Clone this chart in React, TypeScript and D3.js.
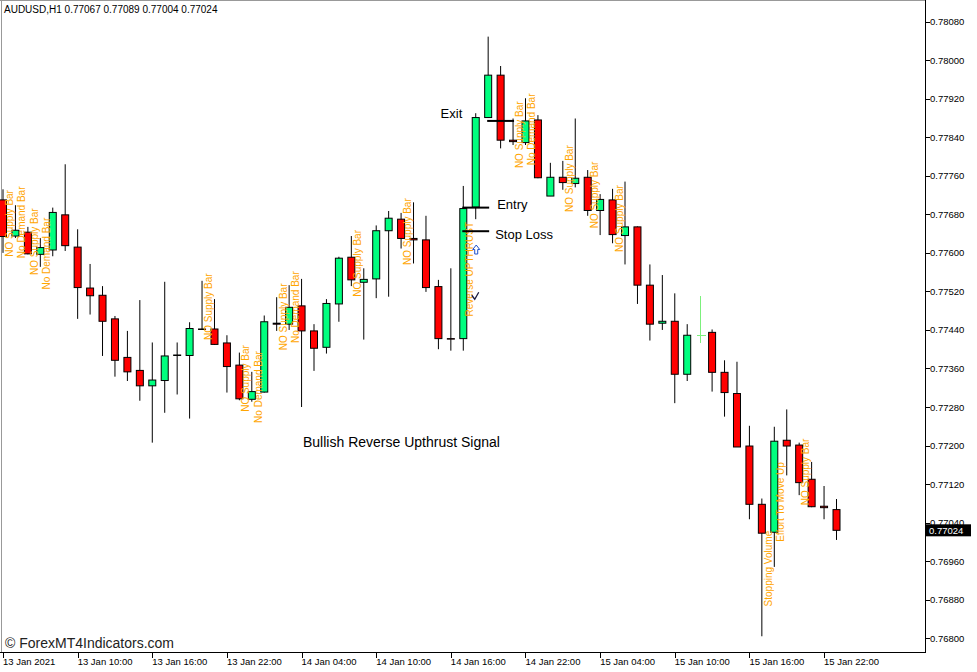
import * as d3 from "d3";

const WIDTH = 977;
const HEIGHT = 672;
const FRAME = { left: 1, top: 1, right: 925, bottom: 652 };
const FONT = "'Liberation Sans', Arial, sans-serif";

const title = "AUDUSD,H1  0.77067 0.77089 0.77004 0.77024";
const lastPrice = 0.77024;

// hourly AUDUSD bars, 13 Jan 04:00 .. 15 Jan 23:00
const opens = [
  0.7771, 0.77635, 0.77643, 0.77597, 0.77606, 0.77679, 0.77612, 0.77527, 0.77512, 0.77463,
  0.77383, 0.77356, 0.77324, 0.77335, 0.77387, 0.77387, 0.77442, 0.77442, 0.77413, 0.77367,
  0.77296, 0.77311, 0.77454, 0.77452, 0.7749, 0.77438, 0.77404, 0.77494, 0.77591, 0.77539,
  0.77546, 0.77646, 0.7767, 0.7763, 0.77627, 0.7753, 0.77422, 0.77422, 0.77695, 0.77881,
  0.77969, 0.77834, 0.77829, 0.77876, 0.77718, 0.77757, 0.77744, 0.77757, 0.77688, 0.7771,
  0.77636, 0.77654, 0.77533, 0.77454, 0.77458, 0.77348, 0.77429, 0.77435, 0.77352, 0.77308,
  0.77199, 0.77078, 0.7702, 0.77211, 0.77201, 0.7713, 0.77074, 0.77067,
];
const highs = [
  0.77732, 0.77699, 0.77654, 0.77631, 0.77694, 0.77784, 0.77649, 0.77577, 0.77531, 0.77469,
  0.77438, 0.77502, 0.77414, 0.7754, 0.77414, 0.77456, 0.77542, 0.77504, 0.77429, 0.77393,
  0.77353, 0.7747, 0.77508, 0.77533, 0.77546, 0.77452, 0.77504, 0.77592, 0.77635, 0.77568,
  0.77657, 0.77687, 0.77683, 0.77705, 0.77677, 0.77544, 0.77568, 0.77739, 0.7789, 0.78049,
  0.77988, 0.77879, 0.77921, 0.77886, 0.77787, 0.77791, 0.77879, 0.77772, 0.77722, 0.77733,
  0.77748, 0.77655, 0.77576, 0.77554, 0.77516, 0.77452, 0.7751, 0.77441, 0.77377, 0.77374,
  0.77241, 0.7709, 0.77239, 0.77275, 0.77206, 0.77166, 0.77116, 0.77089,
];
const lows = [
  0.776, 0.77631, 0.77597, 0.77571, 0.77593, 0.77604, 0.77463, 0.77472, 0.77386, 0.77343,
  0.77334, 0.77293, 0.77206, 0.77268, 0.77306, 0.77256, 0.77441, 0.77409, 0.7731, 0.77294,
  0.77291, 0.7731, 0.77438, 0.7744, 0.7728, 0.77355, 0.77391, 0.77457, 0.77531, 0.7742,
  0.77506, 0.77509, 0.77609, 0.77578, 0.77519, 0.774, 0.77397, 0.77397, 0.7767, 0.7788,
  0.77817, 0.77824, 0.77824, 0.77755, 0.77718, 0.77731, 0.77736, 0.77677, 0.77637, 0.7762,
  0.77576, 0.77494, 0.77418, 0.7744, 0.77288, 0.77334, 0.77413, 0.77312, 0.7726, 0.77197,
  0.77047, 0.76804, 0.76948, 0.77138, 0.77097, 0.77072, 0.77047, 0.77004,
];
const closes = [
  0.77634, 0.77647, 0.77598, 0.77611, 0.77684, 0.77615, 0.77528, 0.77511, 0.77458, 0.77377,
  0.77353, 0.77324, 0.77336, 0.77386, 0.77388, 0.77443, 0.77441, 0.7741, 0.77364, 0.77297,
  0.77312, 0.77457, 0.77452, 0.77487, 0.77438, 0.77402, 0.77495, 0.77589, 0.77544, 0.77545,
  0.77646, 0.77672, 0.7763, 0.77627, 0.77528, 0.77422, 0.77421, 0.77692, 0.77881, 0.77969,
  0.77834, 0.77831, 0.77874, 0.77756, 0.77757, 0.77746, 0.77755, 0.77688, 0.77711, 0.77638,
  0.77654, 0.77533, 0.77452, 0.77458, 0.77348, 0.77429, 0.77429, 0.77352, 0.7731, 0.77197,
  0.77078, 0.77018, 0.77209, 0.77199, 0.77123, 0.77073, 0.77071, 0.77024,
];

const priceTicks = [
  0.7808, 0.78, 0.7792, 0.7784, 0.7776, 0.7768, 0.776, 0.7752, 0.7744,
  0.7736, 0.7728, 0.772, 0.7712, 0.7704, 0.7696, 0.7688, 0.768,
];
const timeLabels = [
  "13 Jan 2021", "13 Jan 10:00", "13 Jan 16:00", "13 Jan 22:00", "14 Jan 04:00", "14 Jan 10:00",
  "14 Jan 16:00", "14 Jan 22:00", "15 Jan 04:00", "15 Jan 10:00", "15 Jan 16:00", "15 Jan 22:00",
];
const timeLabelBars = [0, 6, 12, 18, 24, 30, 36, 42, 48, 54, 60, 66];

// indicator labels (vertical orange text)
const signalTexts = [
  "NO Supply Bar", "No Demand Bar", "NO Supply Bar", "No Demand Bar", "NO Supply Bar",
  "NO Supply Bar", "No Demand Bar", "NO Supply Bar", "No Demand Bar", "NO Supply Bar",
  "NO Supply Bar", "Reverse UPTHRUST", "NO Supply Bar", "No Demand Bar", "NO Supply Bar",
  "NO Supply Bar", "NO Supply Bar", "Stopping Volume", "Effort To Move Up", "NO Supply Bar",
];
const signalBars = [1, 2, 3, 4, 17, 20, 21, 23, 24, 29, 33, 38, 42, 43, 46, 48, 50, 62, 63, 65];
const signalPrices = [
  0.77592, 0.77589, 0.77554, 0.77524, 0.77419, 0.7727, 0.77247, 0.77398, 0.77413, 0.77509,
  0.77575, 0.77468, 0.77776, 0.77782, 0.77685, 0.77651, 0.77602, 0.76866, 0.77, 0.77076,
];

// trade levels
const tradeNames = ["Exit", "Entry", "Stop Loss"];
const tradePrices = [0.77874, 0.77694, 0.77645];
const tradeFrom = [39, 37, 37];
const tradeTo = [41, 39, 39];

const arrowBar = 38;
const arrowPrice = 0.77607;
const checkPrice = 0.7751;

const x = d3.scaleLinear().domain([0, 67]).range([3, 836.5]);
const y = d3.scaleLinear().domain([0.768, 0.7808]).range([638.2, 21.7]);

const Candles = () => {
  return (
    <g>
      {opens.map((o, i) => {
        const c = closes[i];
        const cx = x(i);
        if (o === c) {
          // exact doji drawn as a cross
          const px = Math.round(cx) + 0.5;
          const py = Math.round(y(o)) + 0.5;
          return (
            <g key={i} stroke="#7CF07C" strokeWidth={1} shapeRendering="crispEdges">
              <line x1={px} x2={px} y1={y(highs[i])} y2={y(lows[i])} />
              <line x1={px - 4} x2={px + 5} y1={py} y2={py} />
            </g>
          );
        }
        const top = y(Math.max(o, c));
        const bot = y(Math.min(o, c));
        return (
          <g key={i}>
            <line x1={cx} x2={cx} y1={y(highs[i])} y2={y(lows[i])} stroke="#000" strokeWidth={1} />
            <rect
              x={cx - 3.5}
              y={top}
              width={7}
              height={Math.max(bot - top, 0.5)}
              fill={c > o ? "#00FF7F" : "#FF0000"}
              stroke="#000"
              strokeWidth={1}
            />
          </g>
        );
      })}
    </g>
  );
};

export default function App() {
  const ay = y(arrowPrice);
  const ax = x(arrowBar) + 0.5;
  const cy = y(checkPrice);
  const cxk = x(arrowBar) - 1;
  return (
    <div style={{ position: "absolute", left: 0, top: 0 }}>
      <svg width={WIDTH} height={HEIGHT} style={{ display: "block", background: "#fff" }} fontFamily={FONT}>
        <rect x={0} y={0} width={WIDTH} height={HEIGHT} fill="#fff" />

        {/* frame */}
        <line x1={FRAME.left + 0.5} x2={FRAME.left + 0.5} y1={0} y2={FRAME.bottom} stroke="#999" />
        <line x1={0} x2={FRAME.right} y1={FRAME.top - 0.5} y2={FRAME.top - 0.5} stroke="#999" />
        <line x1={FRAME.right + 0.5} x2={FRAME.right + 0.5} y1={0} y2={FRAME.bottom + 1} stroke="#000" />
        <line x1={0} x2={FRAME.right + 1} y1={FRAME.bottom + 0.5} y2={FRAME.bottom + 0.5} stroke="#000" />

        <text x={4} y={13} fontSize={10} fill="#000">{title}</text>

        {/* price axis */}
        {priceTicks.map((p) => (
          <g key={p}>
            <line x1={FRAME.right + 1} x2={FRAME.right + 5} y1={Math.round(y(p)) + 0.5} y2={Math.round(y(p)) + 0.5} stroke="#000" />
            <text x={930} y={y(p) + 3.5} fontSize={9.5} fill="#000">{p.toFixed(5)}</text>
          </g>
        ))}
        <rect x={926} y={y(lastPrice) - 6} width={45} height={12} fill="#000" />
        <text x={929} y={y(lastPrice) + 3.5} fontSize={9.5} fill="#fff">{lastPrice.toFixed(5)}</text>

        {/* time axis */}
        {timeLabelBars.map((b, i) => (
          <g key={b}>
            <line x1={Math.round(x(b)) + 0.5} x2={Math.round(x(b)) + 0.5} y1={FRAME.bottom + 1} y2={FRAME.bottom + 6} stroke="#000" />
            <text x={x(b)} y={665} fontSize={9.5} fill="#000">{timeLabels[i]}</text>
          </g>
        ))}

        <Candles />

        {/* indicator signal labels */}
        {signalTexts.map((t, i) => (
          <text
            key={i}
            transform={`translate(${x(signalBars[i]) - 2.5},${y(signalPrices[i])}) rotate(-90)`}
            fontSize={10}
            fill="#FFA500"
          >
            {t}
          </text>
        ))}

        {/* upthrust arrow and check */}
        <path
          d={`M${ax},${ay - 4.5} L${ax + 3.5},${ay} L${ax + 1.5},${ay} L${ax + 1.5},${ay + 4.5} L${ax - 1.5},${ay + 4.5} L${ax - 1.5},${ay} L${ax - 3.5},${ay} Z`}
          fill="#fff"
          stroke="#1E50C8"
          strokeWidth={1}
        />
        <path d={`M${cxk - 3},${cy - 1} L${cxk},${cy + 3} L${cxk + 4},${cy - 4}`} fill="none" stroke="#1a1a40" strokeWidth={1.3} />

        {/* trade levels */}
        {tradeNames.map((n, i) => {
          const ly = y(tradePrices[i]);
          return (
            <g key={n}>
              <line x1={x(tradeFrom[i]) - 1} x2={x(tradeTo[i]) + 1} y1={ly} y2={ly} stroke="#000" strokeWidth={2} />
              {n === "Exit" ? (
                <text x={x(tradeFrom[i] - 2) - 1} y={ly - 2.5} fontSize={13} textAnchor="end" fill="#000">{n}</text>
              ) : (
                <text x={x(tradeTo[i]) + (n === "Entry" ? 9 : 7)} y={ly + (n === "Entry" ? 1 : 8)} fontSize={13} fill="#000">{n}</text>
              )}
            </g>
          );
        })}

        <text x={303} y={447} fontSize={14} fill="#000">Bullish Reverse Upthrust Signal</text>
        <text x={5} y={648} fontSize={14} fill="#222">© ForexMT4Indicators.com</text>
      </svg>
    </div>
  );
}
